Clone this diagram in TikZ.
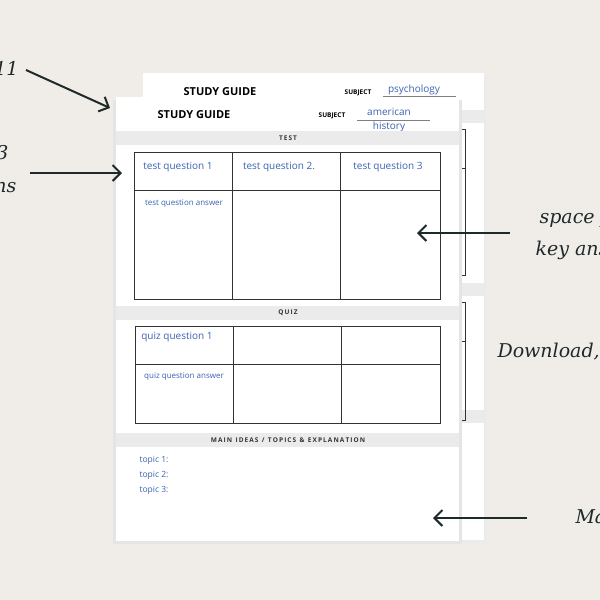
\documentclass[tikz,border=0pt]{standalone}
\usepackage{fontspec}
\setmainfont{Open Sans}
\newfontfamily\hand{DejaVu Serif}
\usetikzlibrary{arrows.meta}
\definecolor{bg}{HTML}{F0EDE8}
\definecolor{band}{HTML}{EBEBEB}
\definecolor{ink}{HTML}{1E2A2A}
\definecolor{blu}{HTML}{3D63B0}
\tikzset{
  bandtxt/.style={font=\bfseries\fontsize{6.5}{7}\selectfont, text=black!80},
  bluetxt/.style={font=\fontsize{10}{11}\selectfont, text=blu},
  smallblue/.style={font=\fontsize{8}{9}\selectfont, text=blu},
  title/.style={font=\bfseries\fontsize{11}{12}\selectfont},
  subj/.style={font=\bfseries\fontsize{6.5}{7}\selectfont},
  hw/.style={font=\hand\itshape\fontsize{19}{21}\selectfont, text=ink},
  arr/.style={draw=ink, line width=2pt, -{Straight Barb[length=8pt,width=16pt,line width=2pt]}},
  grid/.style={draw=black!80, line width=0.9pt}
}
\begin{document}
\begin{tikzpicture}[x=1pt,y=-1pt]
\useasboundingbox (0,0) rectangle (600,600);
\clip (0,0) rectangle (600,600);
\fill[bg] (0,0) rectangle (600,600);
% back page
\fill[black!8] (146,76) rectangle (487,543);
\fill[white] (143,73) rectangle (484,540);
\node[title] (bt) at (220,92) {STUDY GUIDE};
\node[subj] (bs) at (358,93) {SUBJECT};
\node[bluetxt] (bp) at (414,90) {psychology};
\draw[gray] (383,96) -- (456,96);
\fill[band] (143,110) rectangle (484,123);
\fill[band] (143,283) rectangle (484,296);
\fill[band] (143,410) rectangle (484,423);
\draw[grid] (459,129) -- (465,129) -- (465,275) -- (459,275);
\draw[grid] (459,168) -- (465,168);
\draw[grid] (459,302) -- (465,302) -- (465,420) -- (459,420);
\draw[grid] (459,341) -- (465,341);
% front page
\fill[black!10] (113,100) rectangle (462,544);
\fill[white] (116,97) rectangle (459,541);
\node[title] (ft) at (194,115) {STUDY GUIDE};
\node[subj] (fs) at (332,116) {SUBJECT};
\node[bluetxt] (fa) at (389,112) {american};
\node[bluetxt] (fh) at (389,127) {history};
\draw[gray] (357,120) -- (430,120);
\fill[band] (116,131) rectangle (459,145);
\node[bandtxt] (b1) at (288,138) {T\,E\,S\,T};
\draw[grid] (134,152) rectangle (440,299);
\draw[grid] (232,152) -- (232,299);
\draw[grid] (340,152) -- (340,299);
\draw[grid] (134,190) -- (440,190);
\node[bluetxt] (q1) at (178,167) {test question 1};
\node[bluetxt] (q2) at (279,167) {test question 2.};
\node[bluetxt] (q3) at (388,167) {test question 3};
\node[smallblue] (qa) at (184,204) {test question answer};
\fill[band] (116,306) rectangle (459,320);
\node[bandtxt] (b2) at (288,313) {Q\,U\,I\,Z};
\draw[grid] (135,326) rectangle (440,423);
\draw[grid] (233,326) -- (233,423);
\draw[grid] (341,326) -- (341,423);
\draw[grid] (135,364) -- (440,364);
\node[bluetxt] (z1) at (177,337) {quiz question 1};
\node[smallblue] (za) at (184,377) {quiz question answer};
\fill[band] (116,433) rectangle (459,447);
\node[bandtxt] (b3) at (288,440) {M\,A\,I\,N \ I\,D\,E\,A\,S \ / \ T\,O\,P\,I\,C\,S \ \& \ E\,X\,P\,L\,A\,N\,A\,T\,I\,O\,N};
\node[smallblue,anchor=west,font=\fontsize{8.5}{9}\selectfont] (t1) at (136,460) {topic 1:};
\node[smallblue,anchor=west,font=\fontsize{8.5}{9}\selectfont] (t2) at (136,475) {topic 2:};
\node[smallblue,anchor=west,font=\fontsize{8.5}{9}\selectfont] (t3) at (136,490) {topic 3:};
% handwriting labels
\node[hw,anchor=east] (l1) at (22,68) {11};
\node[hw,anchor=east] (l2) at (12,153) {3};
\node[hw,anchor=east] (l3) at (20,188) {ns};
\node[hw,anchor=west] (r1) at (536,218) {space f};
\node[hw,anchor=west] (r2) at (532,250) {key ans};
\node[hw,anchor=west] (r3) at (494,352) {Download, P};
\node[hw,anchor=west] (r4) at (572,517) {Ma};
% arrows
\coordinate (a1s) at (26,70); \coordinate (a1e) at (110,108);
\coordinate (a2s) at (30,173); \coordinate (a2e) at (122,173);
\coordinate (a3s) at (510,233); \coordinate (a3e) at (417,233);
\coordinate (a4s) at (527,518); \coordinate (a4e) at (433,518);
\draw[arr] (a1s) -- (a1e);
\draw[arr] (a2s) -- (a2e);
\draw[arr] (a3s) -- (a3e);
\draw[arr] (a4s) -- (a4e);
\end{tikzpicture}
\end{document}
